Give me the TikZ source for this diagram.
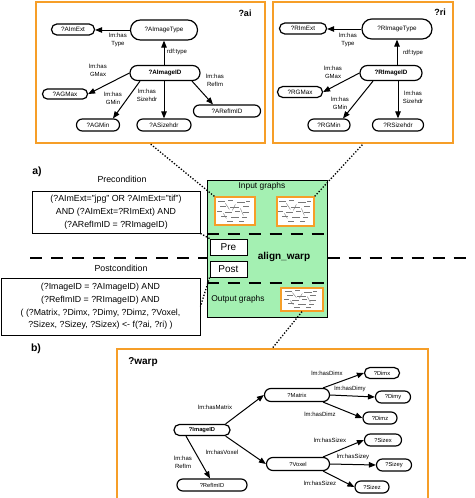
\documentclass[tikz,border=0pt]{standalone}
\usepackage{fontspec}
\setmainfont{Liberation Sans}
\usetikzlibrary{arrows.meta}
\definecolor{frameorange}{RGB}{246,158,40}
\definecolor{boxgreen}{RGB}{164,240,178}
\definecolor{scribgray}{RGB}{120,120,120}
\tikzset{
  pill/.style args={#1x#2}{draw, line width=1.2pt, fill=white, inner sep=0pt,
    minimum width=#1pt, minimum height=#2pt, rounded corners=#2pt/2-0.15pt},
  gfont/.style={font=\fontsize{6.3}{7.5}\selectfont},
  gbold/.style={font=\bfseries\fontsize{6.3}{7.5}\selectfont},
  wfont/.style={font=\fontsize{5.8}{6.9}\selectfont},
  wbold/.style={font=\bfseries\fontsize{5.8}{6.9}\selectfont},
  elabel/.style={inner sep=0pt, align=center, font=\fontsize{6}{8}\selectfont},
  arr/.style={line width=1pt, -{Triangle[length=7pt,width=5.5pt]}},
  gframe/.style={draw=frameorange, line width=2pt, fill=white, inner sep=0pt},
  thumbbox/.style={draw=frameorange, line width=1.3pt, fill=white, inner sep=0pt},
  plainbox/.style={draw, line width=1pt, fill=white, inner sep=0pt},
  dashline/.style={line width=1.8pt, dash pattern=on 12pt off 9pt},
  dotline/.style={line width=1.3pt, dash pattern=on 1.3pt off 1.7pt},
  condtext/.style={align=center, font=\fontsize{8.8}{12.8}\selectfont},
  titletext/.style={inner sep=0pt, font=\fontsize{8.8}{10}\selectfont},
  scribble/.pic={
    \foreach \a/\b/\c in {3/4/7, 13/3/5, 22/5/8, 31/4/4, 5/9/6, 15/10/9, 28/9/6,
        2/14/5, 10/15/7, 20/14/5, 28/15/6, 6/19/6, 16/20/8, 27/20/5, 12/24/6, 24/24/5}
      \draw[scribgray, line width=0.6pt] (\a,\b) -- ++(\c,0);
    \draw[scribgray, line width=0.4pt] (10,6) -- (14,12) (20,7) -- (17,13) (25,11) -- (28,18) (8,16) -- (11,21);
  }
}
\begin{document}
\begin{tikzpicture}[x=1pt,y=-1pt]
\useasboundingbox (0,0) rectangle (474,498);
\fill[white] (0,0) rectangle (474,498);

% ---------- top-left graph ?ai ----------
\node[gframe, minimum width=229pt, minimum height=141pt] (ai) at (150.5,72.5) {};
\node[inner sep=0pt, font=\bfseries\fontsize{9}{10}\selectfont] (ailab) at (245,13) {?ai};
\node[pill=43x11, gfont] (aext) at (73,29.5) {?AImExt};
\node[pill=67x20, gfont] (atype) at (164,30) {?AImageType};
\node[pill=70x15, gbold] (aid) at (165,73) {?AImageID};
\node[pill=45x10, gfont] (agmax) at (65,94) {?AGMax};
\node[pill=43x12, gfont] (agmin) at (98,125) {?AGMin};
\node[pill=54x12, gfont] (asz) at (164,125) {?ASizehdr};
\node[pill=67x12, gfont] (aref) at (227,111) {?ARefImID};
\draw[arr] (atype.west) -- (atype.west -| aext.east);
\draw[arr] (atype.south |- aid.north) -- (atype.south);
\draw[arr] (aid.west) -- (agmax.east);
\draw[arr] ([xshift=-25pt]aid.south) -- ([xshift=15pt]agmin.north);
\draw[arr] (asz.north |- aid.south) -- (asz.north);
\draw[arr] ([xshift=27pt]aid.south) -- ([xshift=-14pt]aref.north);
\node[elabel] (al1) at (118,40) {lm:has\\Type};
\node[elabel] (al2) at (177,52) {rdf:type};
\node[elabel] (al3) at (98,70) {lm:has\\GMax};
\node[elabel] (al4) at (113,98) {lm:has\\GMin};
\node[elabel] (al5) at (147,95) {lm:has\\Sizehdr};
\node[elabel] (al6) at (215,80) {lm:has\\RefIm};

% ---------- top-right graph ?ri ----------
\node[gframe, minimum width=180pt, minimum height=141pt] (ri) at (363,72.5) {};
\node[inner sep=0pt, font=\bfseries\fontsize{9}{10}\selectfont] (rilab) at (440,12) {?ri};
\node[pill=47x11, gfont] (rext) at (303,28.5) {?RImExt};
\node[pill=70x20, gfont] (rtype) at (397,29) {?RImageType};
\node[pill=62x15, gbold] (rid) at (391,73) {?RImageID};
\node[pill=45x11, gfont] (rgmax) at (300,92) {?RGMax};
\node[pill=42x12, gfont] (rgmin) at (329,125) {?RGMin};
\node[pill=51x12, gfont] (rsz) at (398,125) {?RSizehdr};
\draw[arr] (rtype.west) -- (rtype.west -| rext.east);
\draw[arr] (rtype.south |- rid.north) -- (rtype.south);
\draw[arr] (rid.west) -- (rgmax.east);
\draw[arr] ([xshift=-18pt]rid.south) -- ([xshift=14pt]rgmin.north);
\draw[arr] (rsz.north |- rid.south) -- (rsz.north);
\node[elabel] (rl1) at (348,40) {lm:has\\Type};
\node[elabel] (rl2) at (413,53) {rdf:type};
\node[elabel] (rl3) at (333,72) {lm:has\\GMax};
\node[elabel] (rl4) at (340,103) {lm:has\\GMin};
\node[elabel] (rl5) at (413,97) {lm:has\\Sizehdr};

% ---------- middle part ----------
\node[inner sep=0pt, font=\bfseries\fontsize{10.5}{12}\selectfont] (alab) at (37,172) {a)};
\node[titletext] (pretitle) at (122,179) {Precondition};
\node[plainbox, minimum width=168pt, minimum height=42pt, condtext] (precond) at (116,212)
  {(?AImExt="jpg" OR ?AImExt="tif")\\AND (?AImExt=?RImExt) AND\\(?ARefImID = ?RImageID)};
\node[titletext] (posttitle) at (121,268) {Postcondition};
\node[plainbox, minimum width=199pt, minimum height=57pt, condtext] (postcond) at (100.5,306.5)
  {(?ImageID = ?AImageID) AND\\(?RefImID = ?RImageID) AND\\( (?Matrix, ?Dimx, ?Dimy, ?Dimz, ?Voxel,\\?Sizex, ?Sizey, ?Sizex) <- f(?ai, ?ri) )};

\node[draw, line width=1pt, fill=boxgreen, inner sep=0pt, minimum width=120pt, minimum height=137pt] (green) at (267,248.5) {};
\draw[dashline] (30,258) -- (green.west |- 0,258);
\draw[dashline] (green.east |- 0,258) -- (474,258);
\draw[dashline] (green.west |- 0,234) -- (green.east |- 0,234);
\draw[dashline] (green.west |- 0,283) -- (green.east |- 0,283);
\node[inner sep=0pt, font=\fontsize{8.4}{10}\selectfont] (inlab) at (262,186) {Input graphs};
\node[inner sep=0pt, font=\fontsize{8.4}{10}\selectfont] (outlab) at (238,299) {Output graphs};
\node[thumbbox, minimum width=40pt, minimum height=28pt] (t1) at (235,211) {};
\node[thumbbox, minimum width=37pt, minimum height=29pt] (t2) at (295.5,211.5) {};
\node[thumbbox, minimum width=42pt, minimum height=23pt] (tout) at (302,299.5) {};
\pic at ([shift={(1,1)}]t1.north west) {scribble};
\pic at ([shift={(0,1)}]t2.north west) {scribble};
\pic[yscale=0.8] at ([shift={(2,0.5)}]tout.north west) {scribble};
\node[plainbox, minimum width=37pt, minimum height=16pt, font=\fontsize{10}{12}\selectfont] (pre) at (228.5,247) {Pre};
\node[plainbox, minimum width=37pt, minimum height=16pt, font=\fontsize{10}{12}\selectfont] (post) at (228.5,269) {Post};
\node[inner sep=0pt, font=\bfseries\fontsize{10}{12}\selectfont] (aw) at (284,257) {align\_warp};

% ---------- bottom graph ?warp ----------
\node[gframe, minimum width=311pt, minimum height=171pt] (warp) at (272.5,434.5) {};
\node[inner sep=0pt, font=\bfseries\fontsize{10.5}{12}\selectfont] (blab) at (36,349) {b)};
\node[inner sep=0pt, font=\bfseries\fontsize{10}{12}\selectfont] (warplab) at (143,362) {?warp};
\node[pill=56x11, wbold] (wid) at (202,430) {?ImageID};
\node[pill=65x13, wfont] (wmat) at (297,395) {?Matrix};
\node[pill=63x13, wfont] (wvox) at (298,464) {?Voxel};
\node[pill=70x12, wfont] (wref) at (212,485) {?RefImID};
\node[pill=35x11, wfont] (dimx) at (382,373) {?Dimx};
\node[pill=35x12, wfont] (dimy) at (393,397) {?Dimy};
\node[pill=34x12, wfont] (dimz) at (380,418) {?Dimz};
\node[pill=37x12, wfont] (sizex) at (383,440) {?Sizex};
\node[pill=35x12, wfont] (sizey) at (394,465) {?Sizey};
\node[pill=34x12, wfont] (sizez) at (372,487) {?Sizez};
\draw[arr] ([xshift=-5pt]wid.north east) -- (wmat.west);
\draw[arr] ([xshift=-5pt]wid.south east) -- (wvox.west);
\draw[arr] ([xshift=-16pt]wid.south) -- ([xshift=-2pt]wref.north);
\draw[arr] ([xshift=-7pt]wmat.north east) -- (dimx.west);
\draw[arr] (wmat.east) -- (dimy.west);
\draw[arr] ([xshift=-7pt]wmat.south east) -- (dimz.west);
\draw[arr] ([xshift=-7pt]wvox.north east) -- (sizex.west);
\draw[arr] (wvox.east) -- (sizey.west);
\draw[arr] ([xshift=-7pt]wvox.south east) -- (sizez.west);
\node[elabel] (wl1) at (215,407) {lm:hasMatrix};
\node[elabel] (wl2) at (222,452) {lm:hasVoxel};
\node[elabel] (wl3) at (183,462) {lm:has\\RefIm};
\node[elabel] (wl4) at (327,373) {lm:hasDimx};
\node[elabel] (wl5) at (350,389) {lm:hasDimy};
\node[elabel] (wl6) at (320,414) {lm:hasDimz};
\node[elabel] (wl7) at (330,440) {lm:hasSizex};
\node[elabel] (wl8) at (353,457) {lm:hasSizey};
\node[elabel] (wl9) at (320,483) {lm:hasSizez};

% ---------- dotted connectors ----------
\draw[dotline] (t1.north west) -- (ai.south);
\draw[dotline] (t2.north east) -- (ri.south);
\draw[dotline] (precond.south east) -- (pre.north west);
\draw[dotline] (post.south west) -- (postcond.east);
\draw[dotline] (tout.south) -- (warp.north);
\end{tikzpicture}
\end{document}
